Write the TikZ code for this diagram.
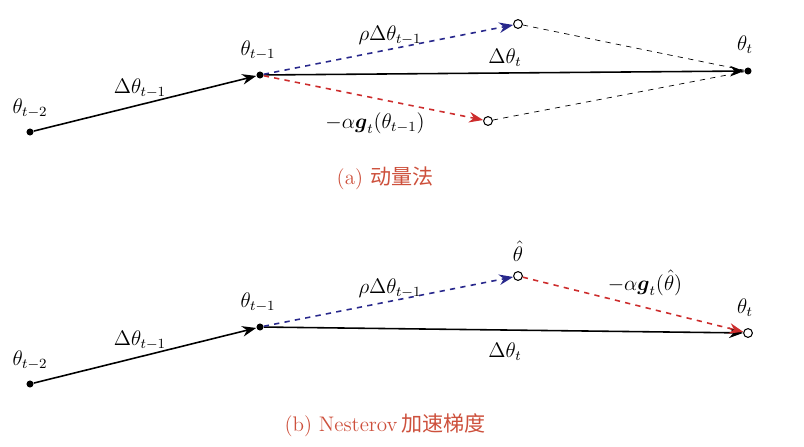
\documentclass[tikz,border=0pt]{standalone}
\usepackage{fontspec}
\usepackage{amsmath}
\newfontfamily\cjk{Noto Sans CJK SC}
\usetikzlibrary{arrows.meta}
\definecolor{bl}{RGB}{40,40,140}
\definecolor{rd}{RGB}{205,45,45}
\definecolor{cap}{RGB}{205,80,60}
\begin{document}
\begin{tikzpicture}[x=0.02cm,y=-0.02cm,
  dot/.style={circle,fill=black,inner sep=0pt,minimum size=4pt},
  odot/.style={circle,draw=black,fill=white,inner sep=0pt,minimum size=5pt,line width=0.6pt},
  lbl/.style={font=\large},
  solidarr/.style={line width=0.9pt,-{Stealth[length=8pt,width=6pt]}},
  bluearr/.style={bl,dashed,line width=0.9pt,-{Stealth[length=8pt,width=6pt]}},
  redarr/.style={rd,dashed,line width=0.9pt,-{Stealth[length=8pt,width=6pt]}},
  thin/.style={dashed,line width=0.4pt},
  captxt/.style={text=cap,font=\large}]
\useasboundingbox (0,0) rectangle (804,446);
% (a)
\node[dot] (a2) at (30,132) {};
\node[dot] (a1) at (260,75) {};
\node[dot] (at) at (748,71) {};
\node[odot] (au) at (518,24) {};
\node[odot] (ad) at (488,121) {};
\draw[solidarr] (a2) -- (a1);
\draw[solidarr] (a1) -- (at);
\draw[bluearr] (a1) -- (au);
\draw[redarr] (a1) -- (ad);
\draw[thin] (au) -- (at);
\draw[thin] (ad) -- (at);
\node[lbl] (la2) at (30,108) {$\theta_{t-2}$};
\node[lbl] (la1) at (258,50) {$\theta_{t-1}$};
\node[lbl] (lat) at (745,45) {$\theta_{t}$};
\node[lbl] (lad1) at (140,88) {$\Delta\theta_{t-1}$};
\node[lbl] (larho) at (390,35) {$\rho\Delta\theta_{t-1}$};
\node[lbl] (ladt) at (505,58) {$\Delta\theta_{t}$};
\node[lbl] (lag) at (375,123) {$-\alpha\boldsymbol{g}_t(\theta_{t-1})$};
\node[captxt] (capa) at (385,178) {(a) {\cjk 动量法}};
% (b)
\node[dot] (b2) at (30,384) {};
\node[dot] (b1) at (260,327) {};
\node[odot] (bt) at (748,333) {};
\node[odot] (bh) at (518,276) {};
\draw[solidarr] (b2) -- (b1);
\draw[solidarr] (b1) -- (bt);
\draw[bluearr] (b1) -- (bh);
\draw[redarr] (bh) -- (bt);
\node[lbl] (lb2) at (30,360) {$\theta_{t-2}$};
\node[lbl] (lb1) at (258,302) {$\theta_{t-1}$};
\node[lbl] (lbt) at (745,308) {$\theta_{t}$};
\node[lbl] (lbh) at (518,251) {$\hat\theta$};
\node[lbl] (lbd1) at (140,340) {$\Delta\theta_{t-1}$};
\node[lbl] (lbrho) at (390,288) {$\rho\Delta\theta_{t-1}$};
\node[lbl] (lbg) at (645,283) {$-\alpha\boldsymbol{g}_t(\hat\theta)$};
\node[lbl] (lbdt) at (505,352) {$\Delta\theta_{t}$};
\node[captxt] (capb) at (385,425) {(b) Nesterov\,{\cjk 加速梯度}};
\end{tikzpicture}
\end{document}
